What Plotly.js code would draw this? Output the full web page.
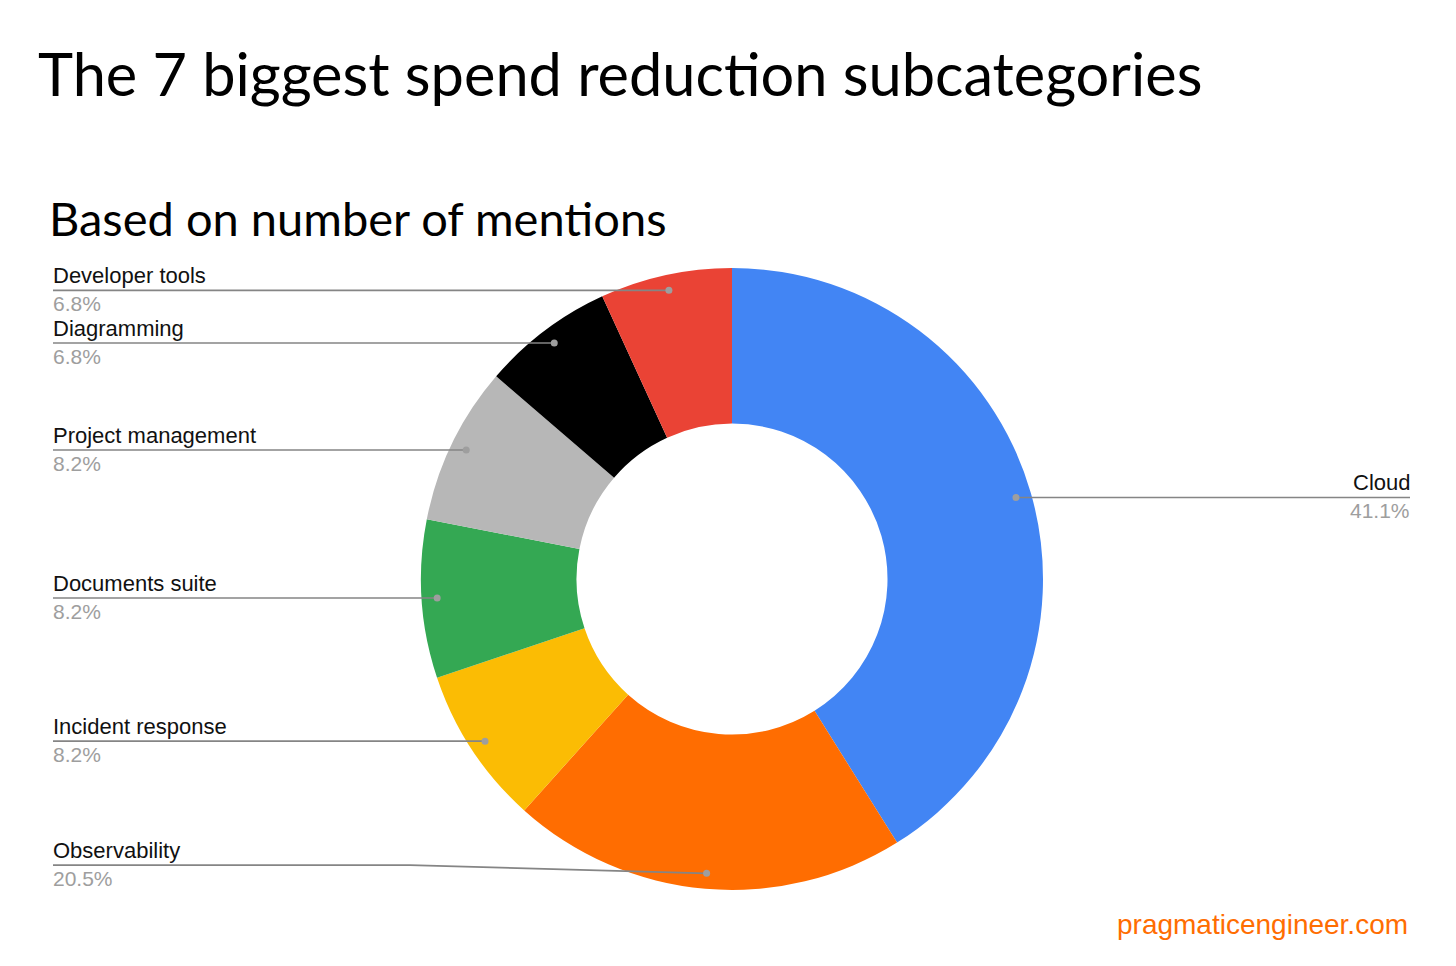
<!DOCTYPE html>
<html>
<head>
<meta charset="utf-8">
<script src="https://cdn.plot.ly/plotly-3.0.1.min.js"></script>
<style>html,body{margin:0;padding:0;background:#fff;}#chart{width:1456px;height:966px;}</style>
</head>
<body>
<div id="chart"></div>
<script>
// ---- data ----
const categories = ["Cloud", "Observability", "Incident response", "Documents suite", "Project management", "Diagramming", "Developer tools"];
const mentions = [30, 15, 6, 6, 6, 5, 5];
const sliceColors = ["#4285F4", "#FF6D01", "#FBBC04", "#34A853", "#B7B7B7", "#000000", "#EA4335"];
const titleText = "The 7 biggest spend reduction subcategories";
const subtitleText = "Based on number of mentions";
const sourceText = "pragmaticengineer.com";

// ---- layout geometry (pixels) ----
const W = 1456, H = 966;
const cx = 732, cy = 579, R = 311;
const labelLeftX = 53, labelRightX = 1410, kinkX = 410;

const px = x => x / W;
const py = y => 1 - y / H;

const total = mentions.reduce((a, b) => a + b, 0);
const shapes = [];
const annotations = [];

let cum = 0;
mentions.forEach((v, i) => {
  const frac = v / total;
  const mid = cum + frac / 2;
  cum += frac;
  const th = 2 * Math.PI * mid;
  const dx = cx + 0.95 * R * Math.sin(th);
  const dy = cy - 0.95 * R * Math.cos(th);
  const ly = Math.min(cy + 0.92 * R, dy);
  const pct = (frac * 100).toFixed(1) + "%";
  const right = dx > cx;
  let path;
  if (right) {
    path = `M ${px(labelRightX)},${py(ly)} L ${px(dx)},${py(dy)}`;
  } else {
    const k = Math.min(kinkX, dx);
    path = `M ${px(labelLeftX)},${py(ly)} L ${px(k)},${py(ly)} L ${px(dx)},${py(dy)}`;
  }
  shapes.push({type: "path", xref: "paper", yref: "paper", path: path,
    line: {color: "#858585", width: 1.6}});
  const r = 3.5;
  shapes.push({type: "circle", xref: "paper", yref: "paper",
    x0: px(dx - r), x1: px(dx + r), y0: py(dy + r), y1: py(dy - r),
    fillcolor: "#9E9E9E", line: {width: 0}});
  const ax = right ? labelRightX + 1 : labelLeftX - 1;
  const anchor = right ? "right" : "left";
  annotations.push({xref: "paper", yref: "paper", x: px(ax), y: py(ly - 1),
    xanchor: anchor, yanchor: "bottom", showarrow: false, borderpad: 0,
    text: categories[i], font: {family: "Liberation Sans, Arial, sans-serif", size: 22, color: "#111"}});
  annotations.push({xref: "paper", yref: "paper", x: px(ax), y: py(ly + 1),
    xanchor: anchor, yanchor: "top", showarrow: false, borderpad: 0,
    text: pct, font: {family: "Liberation Sans, Arial, sans-serif", size: 21, color: "#9E9E9E"}});
});

annotations.push({xref: "paper", yref: "paper", x: px(47), y: py(218),
  xanchor: "left", yanchor: "middle", showarrow: false,
  text: subtitleText, font: {family: "Lato, sans-serif", size: 47, color: "#000"}});
annotations.push({xref: "paper", yref: "paper", x: px(1410), y: py(924),
  xanchor: "right", yanchor: "middle", showarrow: false,
  text: sourceText, font: {family: "Liberation Sans, Arial, sans-serif", size: 28, color: "#FF6D01"}});

const data = [{
  type: "pie",
  labels: categories,
  values: mentions,
  hole: 0.5,
  sort: false,
  direction: "clockwise",
  rotation: 0,
  textinfo: "none",
  hoverinfo: "label+percent",
  marker: {colors: sliceColors, line: {width: 0}},
  domain: {x: [px(cx - R), px(cx + R)], y: [py(cy + R), py(cy - R)]},
  showlegend: false
}];

const layout = {
  width: W, height: H,
  margin: {l: 0, r: 0, t: 0, b: 0},
  paper_bgcolor: "#fff",
  title: {text: titleText, x: px(38), xanchor: "left", y: py(75), yanchor: "middle",
    font: {family: "Lato, sans-serif", size: 59.5, color: "#000"}},
  shapes: shapes,
  annotations: annotations,
  showlegend: false
};

Plotly.newPlot("chart", data, layout, {displayModeBar: false, staticPlot: true});
</script>
</body>
</html>
